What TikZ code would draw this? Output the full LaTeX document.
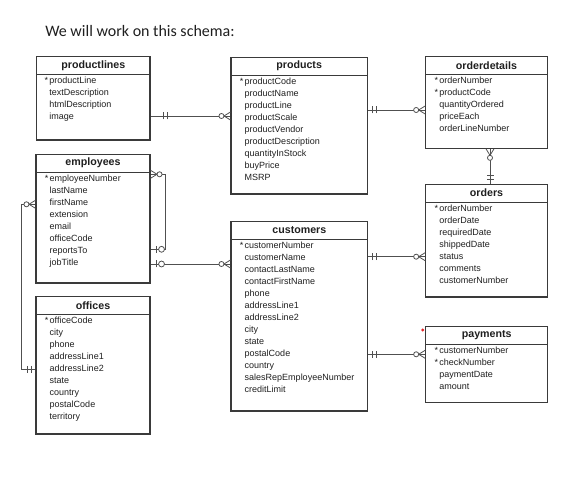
\documentclass[tikz,border=0pt]{standalone}
\usepackage{fontspec}
\setmainfont{Liberation Sans}
\newfontfamily\titlefont{Carlito}
\usetikzlibrary{calc,fit}
\definecolor{erInk}{HTML}{1F1F1F}
\definecolor{erFrame}{HTML}{3A3A3A}
\definecolor{erLink}{HTML}{505050}
\definecolor{erRed}{HTML}{E5252A}
\tikzset{
  every picture/.style={text=erInk},
  er box/.style={draw=erFrame, line width=0.8pt, inner sep=0pt},
  er rule/.style={draw=erFrame, line width=0.8pt},
  er head/.style={font=\bfseries\fontsize{8}{10}\selectfont, inner sep=0pt},
  er row/.style={font=\fontsize{6.75}{9}\selectfont, anchor=base west, inner sep=0pt},
  er link/.style={draw=erLink, line width=0.6pt},
  er title/.style={font=\titlefont\fontsize{12}{14}\selectfont, anchor=base west, inner sep=0pt},
  pics/er one/.style={code={\draw[er link] (-4.5,-3.5) -- (-4.5,3.5) (-8.5,-3.5) -- (-8.5,3.5);}},
  pics/er many/.style={code={\draw[er link] (0,-4) -- (-6.5,0) -- (0,4);
      \draw[er link, fill=white] (-9,0) circle (1.9pt);}},
  pics/er one opt/.style={code={\draw[er link] (-6,-3.5) -- (-6,3.5);
      \draw[er link, fill=white] (-11,0) circle (2.2pt);}}
}
\begin{document}
\begin{tikzpicture}[x=0.75pt,y=-0.75pt]
  \useasboundingbox (0,0) rectangle (569,495);
  \node[er title] (title) at (45,37) {We will work on this schema:};

  % productlines
  \node[er box, fit={(36.7,56.7) (150,140)}] (plines) {};
  \node[er head] (plines-h) at ($(plines.north)+(0,9.25)$) {productlines};
  \draw[er rule] ($(plines.north west)+(0,18.5)$) -- ($(plines.north east)+(0,18.5)$);
  \foreach \t [count=\i from 0] in {{\llap{*\hspace{1pt}}productLine}, textDescription, htmlDescription, image}
    \node[er row] (plines-\i) at ($(plines.north west)+(13,{27.5+12*\i})$) {\t};

  % products
  \node[er box, fit={(231,57.3) (367.3,194)}] (prods) {};
  \node[er head] (prods-h) at ($(prods.north)+(0,9.25)$) {products};
  \draw[er rule] ($(prods.north west)+(0,18.5)$) -- ($(prods.north east)+(0,18.5)$);
  \foreach \t [count=\i from 0] in {{\llap{*\hspace{1pt}}productCode}, productName, productLine, productScale,
      productVendor, productDescription, quantityInStock, buyPrice, MSRP}
    \node[er row] (prods-\i) at ($(prods.north west)+(14,{27.5+12*\i})$) {\t};

  % orderdetails
  \node[er box, fit={(425.7,56.7) (547.3,148.3)}] (odetails) {};
  \node[er head] (odetails-h) at ($(odetails.north)+(0,9.25)$) {orderdetails};
  \draw[er rule] ($(odetails.north west)+(0,18.5)$) -- ($(odetails.north east)+(0,18.5)$);
  \foreach \t [count=\i from 0] in {{\llap{*\hspace{1pt}}orderNumber}, {\llap{*\hspace{1pt}}productCode}, quantityOrdered,
      priceEach, orderLineNumber}
    \node[er row] (odetails-\i) at ($(odetails.north west)+(14,{27.5+12*\i})$) {\t};

  % employees
  \node[er box, fit={(36,154.3) (150,283)}] (emps) {};
  \node[er head] (emps-h) at ($(emps.north)+(0,9.25)$) {employees};
  \draw[er rule] ($(emps.north west)+(0,18.5)$) -- ($(emps.north east)+(0,18.5)$);
  \foreach \t [count=\i from 0] in {{\llap{*\hspace{1pt}}employeeNumber}, lastName, firstName, extension,
      email, officeCode, reportsTo, jobTitle}
    \node[er row] (emps-\i) at ($(emps.north west)+(14,{27.5+12*\i})$) {\t};

  % offices
  \node[er box, fit={(36,296.7) (150,434)}] (offs) {};
  \node[er head] (offs-h) at ($(offs.north)+(0,9.25)$) {offices};
  \draw[er rule] ($(offs.north west)+(0,18.5)$) -- ($(offs.north east)+(0,18.5)$);
  \foreach \t [count=\i from 0] in {{\llap{*\hspace{1pt}}officeCode}, city, phone, addressLine1, addressLine2,
      state, country, postalCode, territory}
    \node[er row] (offs-\i) at ($(offs.north west)+(14,{27.5+12*\i})$) {\t};

  % customers
  \node[er box, fit={(231,221.7) (367.7,411)}] (custs) {};
  \node[er head] (custs-h) at ($(custs.north)+(0,9.25)$) {customers};
  \draw[er rule] ($(custs.north west)+(0,18.5)$) -- ($(custs.north east)+(0,18.5)$);
  \foreach \t [count=\i from 0] in {{\llap{*\hspace{1pt}}customerNumber}, customerName, contactLastName,
      contactFirstName, phone, addressLine1, addressLine2, city, state, postalCode, country,
      salesRepEmployeeNumber, creditLimit}
    \node[er row] (custs-\i) at ($(custs.north west)+(14,{27.5+12*\i})$) {\t};

  % orders
  \node[er box, fit={(425.7,184.3) (547.3,297)}] (orders) {};
  \node[er head] (orders-h) at ($(orders.north)+(0,9.25)$) {orders};
  \draw[er rule] ($(orders.north west)+(0,18.5)$) -- ($(orders.north east)+(0,18.5)$);
  \foreach \t [count=\i from 0] in {{\llap{*\hspace{1pt}}orderNumber}, orderDate, requiredDate, shippedDate,
      status, comments, customerNumber}
    \node[er row] (orders-\i) at ($(orders.north west)+(14,{27.5+12*\i})$) {\t};

  % payments
  \node[er box, fit={(425.7,326.7) (547.7,402.7)}] (pays) {};
  \node[er head] (pays-h) at ($(pays.north)+(0,9.25)$) {payments};
  \draw[er rule] ($(pays.north west)+(0,18.5)$) -- ($(pays.north east)+(0,18.5)$);
  \foreach \t [count=\i from 0] in {{\llap{*\hspace{1pt}}customerNumber}, {\llap{*\hspace{1pt}}checkNumber}, paymentDate, amount}
    \node[er row] (pays-\i) at ($(pays.north west)+(14,{27.5+12*\i})$) {\t};

  % relations
  \draw[er link] (plines.east |- 0,116) -- (prods.west |- 0,116) pic{er many};
  \pic[rotate=180] at ($(plines.east |- 0,116)+(8,0)$) {er one};
  \draw[er link] (prods.east |- 0,110) pic[rotate=180]{er one} -- (odetails.west |- 0,110) pic{er many};
  \draw[er link] (odetails.south -| 490,0) pic[rotate=90]{er many} -- (orders.north -| 490,0) pic[rotate=-90]{er one};
  \draw[er link] (custs.east |- 0,256.7) pic[rotate=180]{er one} -- (orders.west |- 0,256.7) pic{er many};
  \draw[er link] (custs.east |- 0,354.3) pic[rotate=180]{er one} -- (pays.west |- 0,354.3) pic{er many};
  \draw[er link] (emps.east |- 0,264) pic[rotate=180]{er one opt} -- (custs.west |- 0,264) pic{er many};
  \draw[er link] (emps.east |- 0,174.3) pic[rotate=180]{er many} -- ++(15,0)
    |- (emps.east |- 0,249.3) pic[rotate=180]{er one opt};
  \draw[er link] (emps.west |- 0,204.3) pic{er many} -- ++(-14.3,0)
    |- (offs.west |- 0,369.3) pic{er one};
  \fill[erRed] (422.7,330) circle (1.2pt);
\end{tikzpicture}
\end{document}
